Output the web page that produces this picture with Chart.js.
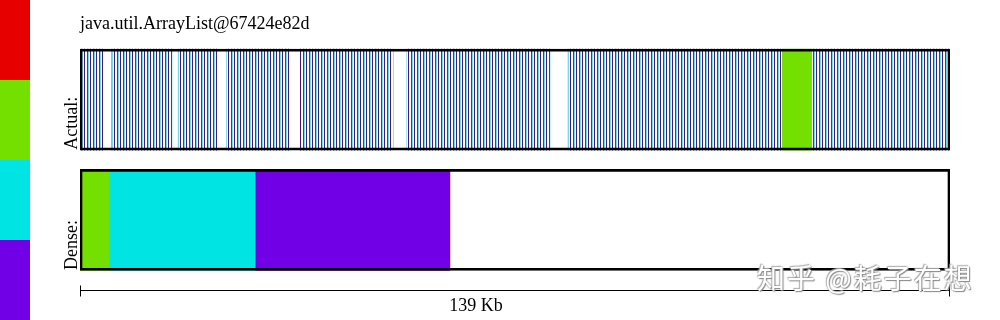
<!DOCTYPE html>
<html>
<head>
<meta charset="utf-8">
<script src="https://cdn.jsdelivr.net/npm/chart.js@4.4.1/dist/chart.umd.min.js"></script>
<style>
  html, body { margin: 0; padding: 0; background: #fff; }
  #wrap { position: relative; width: 1000px; height: 320px; }
  #key { position: absolute; left: 0; top: 0; width: 30px; }
  #key div { height: 80px; }
  #mark {
    position: absolute; left: 757px; top: 257px;
    font: 28px "Noto Sans CJK SC"; letter-spacing: 2px; color: #fff;
    text-shadow: 1px 1px 1px #8a8a8a, -1px -1px 1px #b0b0b0, 0 0 2px #999;
    white-space: nowrap;
  }
</style>
</head>
<body>
<div id="wrap">
  <canvas id="heap" width="1000" height="320"></canvas>
  <div id="key"></div>
  <div id="mark">知乎 @耗子在想</div>
</div>
<script>
const title = 'java.util.ArrayList@67424e82d';
const rows = ['Actual:', 'Dense:'];
const totalKb = 139;

// участки памяти в Kb: [начало, конец]
const actualRuns = [[0, 3.8], [5.1, 14.7], [15.7, 22.0], [23.4, 33.4], [35.1, 50.0], [52.2, 75.1], [78.0, 112.2], [112.2, 117.0], [117.0, 139]];
const actualKinds = ['mixed', 'mixed', 'mixed', 'mixed', 'mixed', 'mixed', 'mixed', 'green', 'mixed'];
const denseRuns = [[0, 4.8], [4.8, 28.1], [28.1, 59.1]];
const denseKinds = ['green', 'cyan', 'purple'];
const keyKinds = ['red', 'green', 'cyan', 'purple'];

const kindColors = { red: '#e60000', green: '#74e000', cyan: '#00e4e4', purple: '#7100e6' };

// полоски для смешанных участков
function stripePattern(ctx) {
    const c = document.createElement('canvas');
    c.width = 6; c.height = 1;
    const g = c.getContext('2d');
    g.fillStyle = '#fff'; g.fillRect(0, 0, 6, 1);
    g.fillStyle = '#4e1478'; g.fillRect(0, 0, 1, 1);
    g.fillStyle = '#2a3ec4'; g.fillRect(3, 0, 1, 1);
    g.fillStyle = '#6fdcee'; g.fillRect(4, 0, 1, 1);
    return ctx.createPattern(c, 'repeat');
}

// цветовая шкала слева
const key = document.getElementById('key');
keyKinds.forEach(k => {
    const d = document.createElement('div');
    d.style.background = kindColors[k];
    key.appendChild(d);
});

const segData = [];
const segKinds = [];
actualRuns.forEach((r, i) => { segData.push({ x: r, y: rows[0] }); segKinds.push(actualKinds[i]); });
denseRuns.forEach((r, i) => { segData.push({ x: r, y: rows[1] }); segKinds.push(denseKinds[i]); });

const canvas = document.getElementById('heap');
const stripes = stripePattern(canvas.getContext('2d'));

// подписи рядов и линейка масштаба
const heapExtras = {
    id: 'heapExtras',
    afterDraw(chart) {
        const { ctx, chartArea, scales: { x, y } } = chart;
        ctx.save();
        ctx.fillStyle = '#000';
        ctx.strokeStyle = '#000';
        ctx.font = '18px "Liberation Serif"';
        rows.forEach((row, i) => {
            const bottom = y.getPixelForValue(i) + 50;
            ctx.save();
            ctx.translate(77, bottom);
            ctx.rotate(-Math.PI / 2);
            ctx.textAlign = 'left';
            ctx.textBaseline = 'alphabetic';
            ctx.fillText(row, 0, 0);
            ctx.restore();
        });

        const x0 = x.getPixelForValue(0), x1 = x.getPixelForValue(totalKb);
        const yb = Math.round(chartArea.bottom + 10) + 0.5;
        ctx.lineWidth = 1;
        ctx.beginPath();
        ctx.moveTo(x0, yb); ctx.lineTo(x1, yb);
        ctx.moveTo(x0 + 0.5, yb - 5); ctx.lineTo(x0 + 0.5, yb + 6);
        ctx.moveTo(x1 - 0.5, yb - 5); ctx.lineTo(x1 - 0.5, yb + 6);
        ctx.stroke();

        ctx.textAlign = 'center';
        ctx.textBaseline = 'top';
        ctx.fillText(totalKb + ' Kb', (x0 + x1) / 2 - 39, yb + 7);
        ctx.restore();
    }
};

new Chart(canvas, {
    type: 'bar',
    data: {
        labels: rows,
        datasets: [
            {
                label: 'frame',
                data: rows.map(r => ({ x: [0, totalKb], y: r })),
                backgroundColor: 'rgba(0,0,0,0)',
                borderColor: '#000',
                borderWidth: 2,
                borderSkipped: false,
                barThickness: 101,
                grouped: false
            },
            {
                label: 'segments',
                data: segData,
                backgroundColor: c => segKinds[c.dataIndex] === 'mixed' ? stripes : kindColors[segKinds[c.dataIndex]],
                borderWidth: 0,
                barThickness: 101,
                grouped: false
            }
        ]
    },
    options: {
        indexAxis: 'y',
        responsive: false,
        animation: false,
        layout: { padding: { left: 80, right: 50, top: 0, bottom: 40 } },
        scales: {
            x: { type: 'linear', min: 0, max: totalKb, display: false },
            y: { type: 'category', labels: rows, display: false, offset: true }
        },
        plugins: {
            legend: { display: false },
            tooltip: { enabled: false },
            title: {
                display: true,
                text: title,
                align: 'start',
                color: '#000',
                font: { family: 'Liberation Serif', size: 18, weight: 'normal' },
                padding: { top: 13, bottom: 5 }
            }
        }
    },
    plugins: [heapExtras]
});
</script>
</body>
</html>
